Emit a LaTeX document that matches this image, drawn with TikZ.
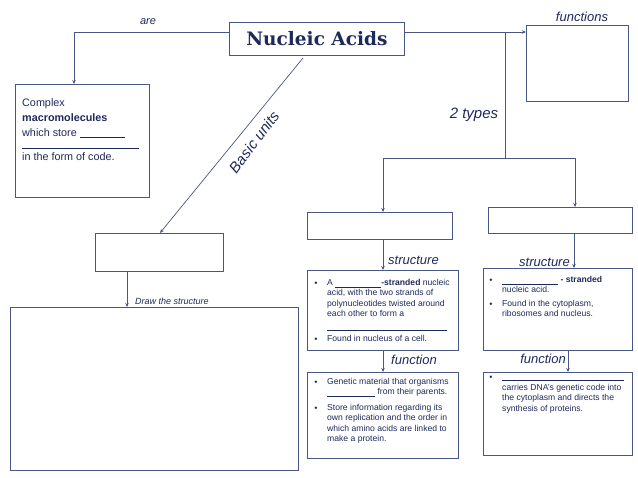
\documentclass[tikz,border=0pt]{standalone}
\usepackage{fontspec}
\setmainfont{Liberation Sans}
\newfontfamily\titlefont{DejaVu Serif}
\usetikzlibrary{arrows.meta}
\definecolor{navy}{HTML}{1F2A5C}
\definecolor{ln}{HTML}{4A5683}
\newcommand{\bul}[2]{\noindent\makebox[13pt][l]{\raisebox{1pt}{\tiny$\bullet$}}\parbox[t]{#1}{\raggedright #2}\par}
\begin{document}
\begin{tikzpicture}[x=1pt,y=-1pt,
 box/.style={draw=ln,line width=0.8pt,inner sep=0},
 arr/.style={draw=ln,line width=0.7pt,-{Stealth[length=4pt,width=3.5pt]}},
 con/.style={draw=ln,line width=0.7pt},
 lab/.style={text=navy,font=\itshape\fontsize{#1}{#1}\selectfont,inner sep=0},
 lab/.default=14,
 txt/.style={text=navy,font=\fontsize{8.6}{10.5}\selectfont,align=left,anchor=north west,inner sep=0}]
\useasboundingbox (0,0) rectangle (638,478);
\fill[white] (0,0) rectangle (638,478);
% boxes
\node[box,minimum width=175,minimum height=33,anchor=north west] (title) at (229,22) {};
\node[text=navy,font=\titlefont\bfseries\fontsize{18.5}{18.5}\selectfont] at (title.center) {Nucleic Acids};
\node[box,minimum width=134,minimum height=113,anchor=north west] (cx) at (15,84) {};
\node[box,minimum width=128,minimum height=38,anchor=north west] (bu) at (95,233) {};
\node[box,minimum width=288,minimum height=163,anchor=north west] (ds) at (10,307) {};
\node[box,minimum width=102,minimum height=76,anchor=north west] (fn) at (526,25) {};
\node[box,minimum width=145,minimum height=27,anchor=north west] (dna) at (307,212) {};
\node[box,minimum width=144,minimum height=26,anchor=north west] (rna) at (488,207) {};
\node[box,minimum width=151,minimum height=80,anchor=north west] (ds1) at (307,270) {};
\node[box,minimum width=151,minimum height=86,anchor=north west] (df1) at (307,372) {};
\node[box,minimum width=149,minimum height=82,anchor=north west] (rs1) at (483,268) {};
\node[box,minimum width=149,minimum height=83,anchor=north west] (rf1) at (483,372) {};
% coordinates
\coordinate (tl) at (229,32); \coordinate (tr) at (404,32);
\coordinate (sp) at (505,32); \coordinate (sb) at (505,158);
\coordinate (t1) at (303,58);
% connectors
\draw[arr] (tl) -| (74,84);
\draw[arr] (t1) -- (160,233);
\draw[arr] (127,271) -- (127,307);
\draw[arr] (tr) -- (fn.west |- tr);
\draw[con] (sp) -- (sb);
\draw[con] (383,158) -- (575,158);
\draw[arr] (383,158) -- (383,212);
\draw[arr] (575,158) -- (575,207);
\draw[arr] (383,239) -- (383,270);
\draw[arr] (383,350) -- (383,372);
\draw[arr] (574,233) -- (574,268);
\draw[arr] (568,350) -- (568,372);
% labels
\node[lab=11] at (148,22) {are};
\node[lab=13] at (582,17) {functions};
\node[lab=15] at (474,115) {2 types};
\node[lab=15,rotate=53] at (254,142) {Basic units};
\node[lab=9,anchor=west] at (135,301) {Draw the structure};
\node[lab=13,anchor=west] at (388,260) {structure};
\node[lab=13,anchor=west] at (391,360) {function};
\node[lab=13,anchor=east] at (570,262) {structure};
\node[lab=13,anchor=east] at (566,359) {function};
% text
\node[txt,font=\fontsize{10.8}{15}\selectfont] at (22,98) {Complex\\\textbf{macromolecules}\\which store \underline{\hspace{45pt}}\\[-2pt]\rule{117pt}{0.6pt}\\[-4pt]in the form of code.};
\node[txt] at (314,279) {\begin{minipage}{142pt}\fontsize{8.6}{10.5}\selectfont
\bul{125pt}{A \underline{\hspace{46pt}}\textbf{-stranded} nucleic acid, with the two strands of polynucleotides twisted around each other to form a\\[3pt]\rule{120pt}{0.5pt}}\vspace{4pt}
\bul{125pt}{Found in nucleus of a cell.}\end{minipage}};
\node[txt] at (314,378) {\begin{minipage}{142pt}\fontsize{8.6}{10.5}\selectfont
\bul{125pt}{Genetic material that organisms \underline{\hspace{48pt}} from their parents.}\vspace{6pt}
\bul{125pt}{Store information regarding its own replication and the order in which amino acids are linked to make a protein.}\end{minipage}};
\node[txt] at (489,276) {\begin{minipage}{140pt}\fontsize{8.6}{10.5}\selectfont
\bul{124pt}{\underline{\hspace{56pt}} \textbf{- stranded}\\ nucleic acid.}\vspace{6pt}
\bul{124pt}{Found in the cytoplasm, ribosomes and nucleus.}\end{minipage}};
\node[txt] at (489,376) {\begin{minipage}{140pt}\fontsize{8.6}{10.5}\selectfont
\bul{124pt}{\rule[-1pt]{122pt}{0.5pt}\\ carries DNA's genetic code into the cytoplasm and directs the synthesis of proteins.}\end{minipage}};
\end{tikzpicture}
\end{document}
